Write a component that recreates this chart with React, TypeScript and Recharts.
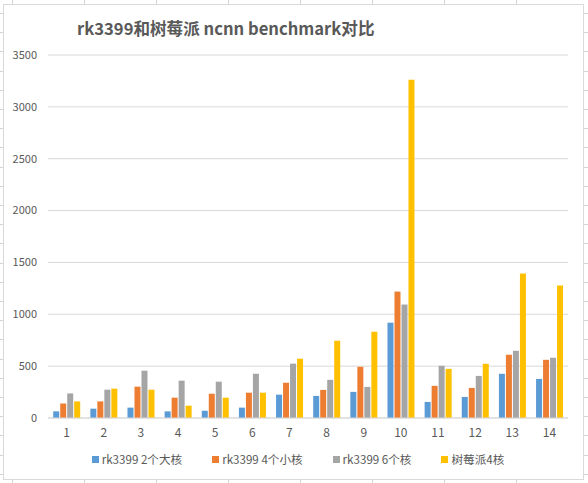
import React from "react";
import { BarChart, Bar, XAxis, YAxis, CartesianGrid } from "recharts";

const categories = ["1", "2", "3", "4", "5", "6", "7", "8", "9", "10", "11", "12", "13", "14"];
const big2 = [64, 90, 100, 64, 70, 100, 225, 213, 252, 919, 155, 203, 426, 377];
const little4 = [141, 160, 302, 196, 234, 244, 340, 271, 494, 1219, 310, 290, 610, 561];
const all6 = [237, 273, 456, 360, 350, 427, 524, 368, 300, 1094, 503, 406, 648, 581];
const raspi4 = [160, 283, 273, 119, 196, 244, 572, 745, 832, 3262, 474, 523, 1394, 1277];
const yTicks = [0, 500, 1000, 1500, 2000, 2500, 3000, 3500];

const series = [
  { key: "big2", name: "rk3399 2个大核", color: "#5B9BD5", values: big2 },
  { key: "little4", name: "rk3399 4个小核", color: "#ED7D31", values: little4 },
  { key: "all6", name: "rk3399 6个核", color: "#A5A5A5", values: all6 },
  { key: "raspi4", name: "树莓派4核", color: "#FFC000", values: raspi4 },
];

const data = categories.map((c, i) => {
  const row: Record<string, string | number> = { cat: c };
  series.forEach((s) => (row[s.key] = s.values[i]));
  return row;
});

const FONT = "'Noto Sans CJK SC', 'Noto Sans', sans-serif";
const TEXT = "#595959";

export default function App() {
  return (
    <div
      style={{
        position: "absolute",
        left: 0,
        top: 0,
        width: 588,
        height: 483,
        overflow: "hidden",
        background: "#fff",
        backgroundImage:
          "repeating-linear-gradient(to right, transparent 0px, transparent 12px, #d4d4d4 12px, #d4d4d4 13px, transparent 13px, transparent 72px), repeating-linear-gradient(to bottom, transparent 0px, transparent 13px, #d4d4d4 13px, #d4d4d4 14px, transparent 14px, transparent 19.2px)",
        fontFamily: FONT,
      }}
    >
      <div
        style={{
          position: "absolute",
          left: 3,
          top: 4,
          width: 579,
          height: 474,
          background: "#fff",
          border: "1px solid #d9d9d9",
        }}
      />
      <div style={{ position: "absolute", left: 0, top: 0 }}>
        <BarChart
          width={588}
          height={483}
          data={data}
          margin={{ top: 55, right: 20, bottom: 35, left: 8 }}
          barCategoryGap="14%"
          barGap={1}
        >
          <CartesianGrid vertical={false} stroke="#d9d9d9" strokeWidth={1} />
          <XAxis
            dataKey="cat"
            axisLine={{ stroke: "#d9d9d9" }}
            tickLine={false}
            tickMargin={4}
            tick={{ fill: TEXT, fontSize: 12, fontFamily: FONT }}
            interval={0}
          />
          <YAxis
            width={40}
            domain={[0, 3500]}
            ticks={yTicks}
            axisLine={false}
            tickLine={false}
            tickMargin={5}
            tick={{ fill: TEXT, fontSize: 11, fontFamily: FONT }}
            interval={0}
          />
          {series.map((s) => (
            <Bar key={s.key} dataKey={s.key} name={s.name} fill={s.color} isAnimationActive={false} />
          ))}
        </BarChart>
      </div>
      <svg
        width={588}
        height={483}
        style={{ position: "absolute", left: 0, top: 0, pointerEvents: "none" }}
      >
        <text x={77} y={35} fill={TEXT} fontSize={16.6} fontWeight="bold" fontFamily={FONT}>
          rk3399和树莓派 ncnn benchmark对比
        </text>
      </svg>
      <div
        style={{
          position: "absolute",
          left: 4,
          width: 588,
          top: 450,
          height: 18,
          display: "flex",
          justifyContent: "center",
          alignItems: "center",
          fontSize: 11.6,
          color: TEXT,
          fontFamily: FONT,
          whiteSpace: "nowrap",
        }}
      >
        {series.map((s, i) => (
          <div
            key={s.key}
            style={{
              display: "flex",
              alignItems: "center",
              marginRight: i < series.length - 1 ? 30 : 0,
            }}
          >
            <span style={{ width: 7, height: 7, background: s.color, marginRight: 3, display: "inline-block" }} />
            <span>{s.name}</span>
          </div>
        ))}
      </div>
    </div>
  );
}
